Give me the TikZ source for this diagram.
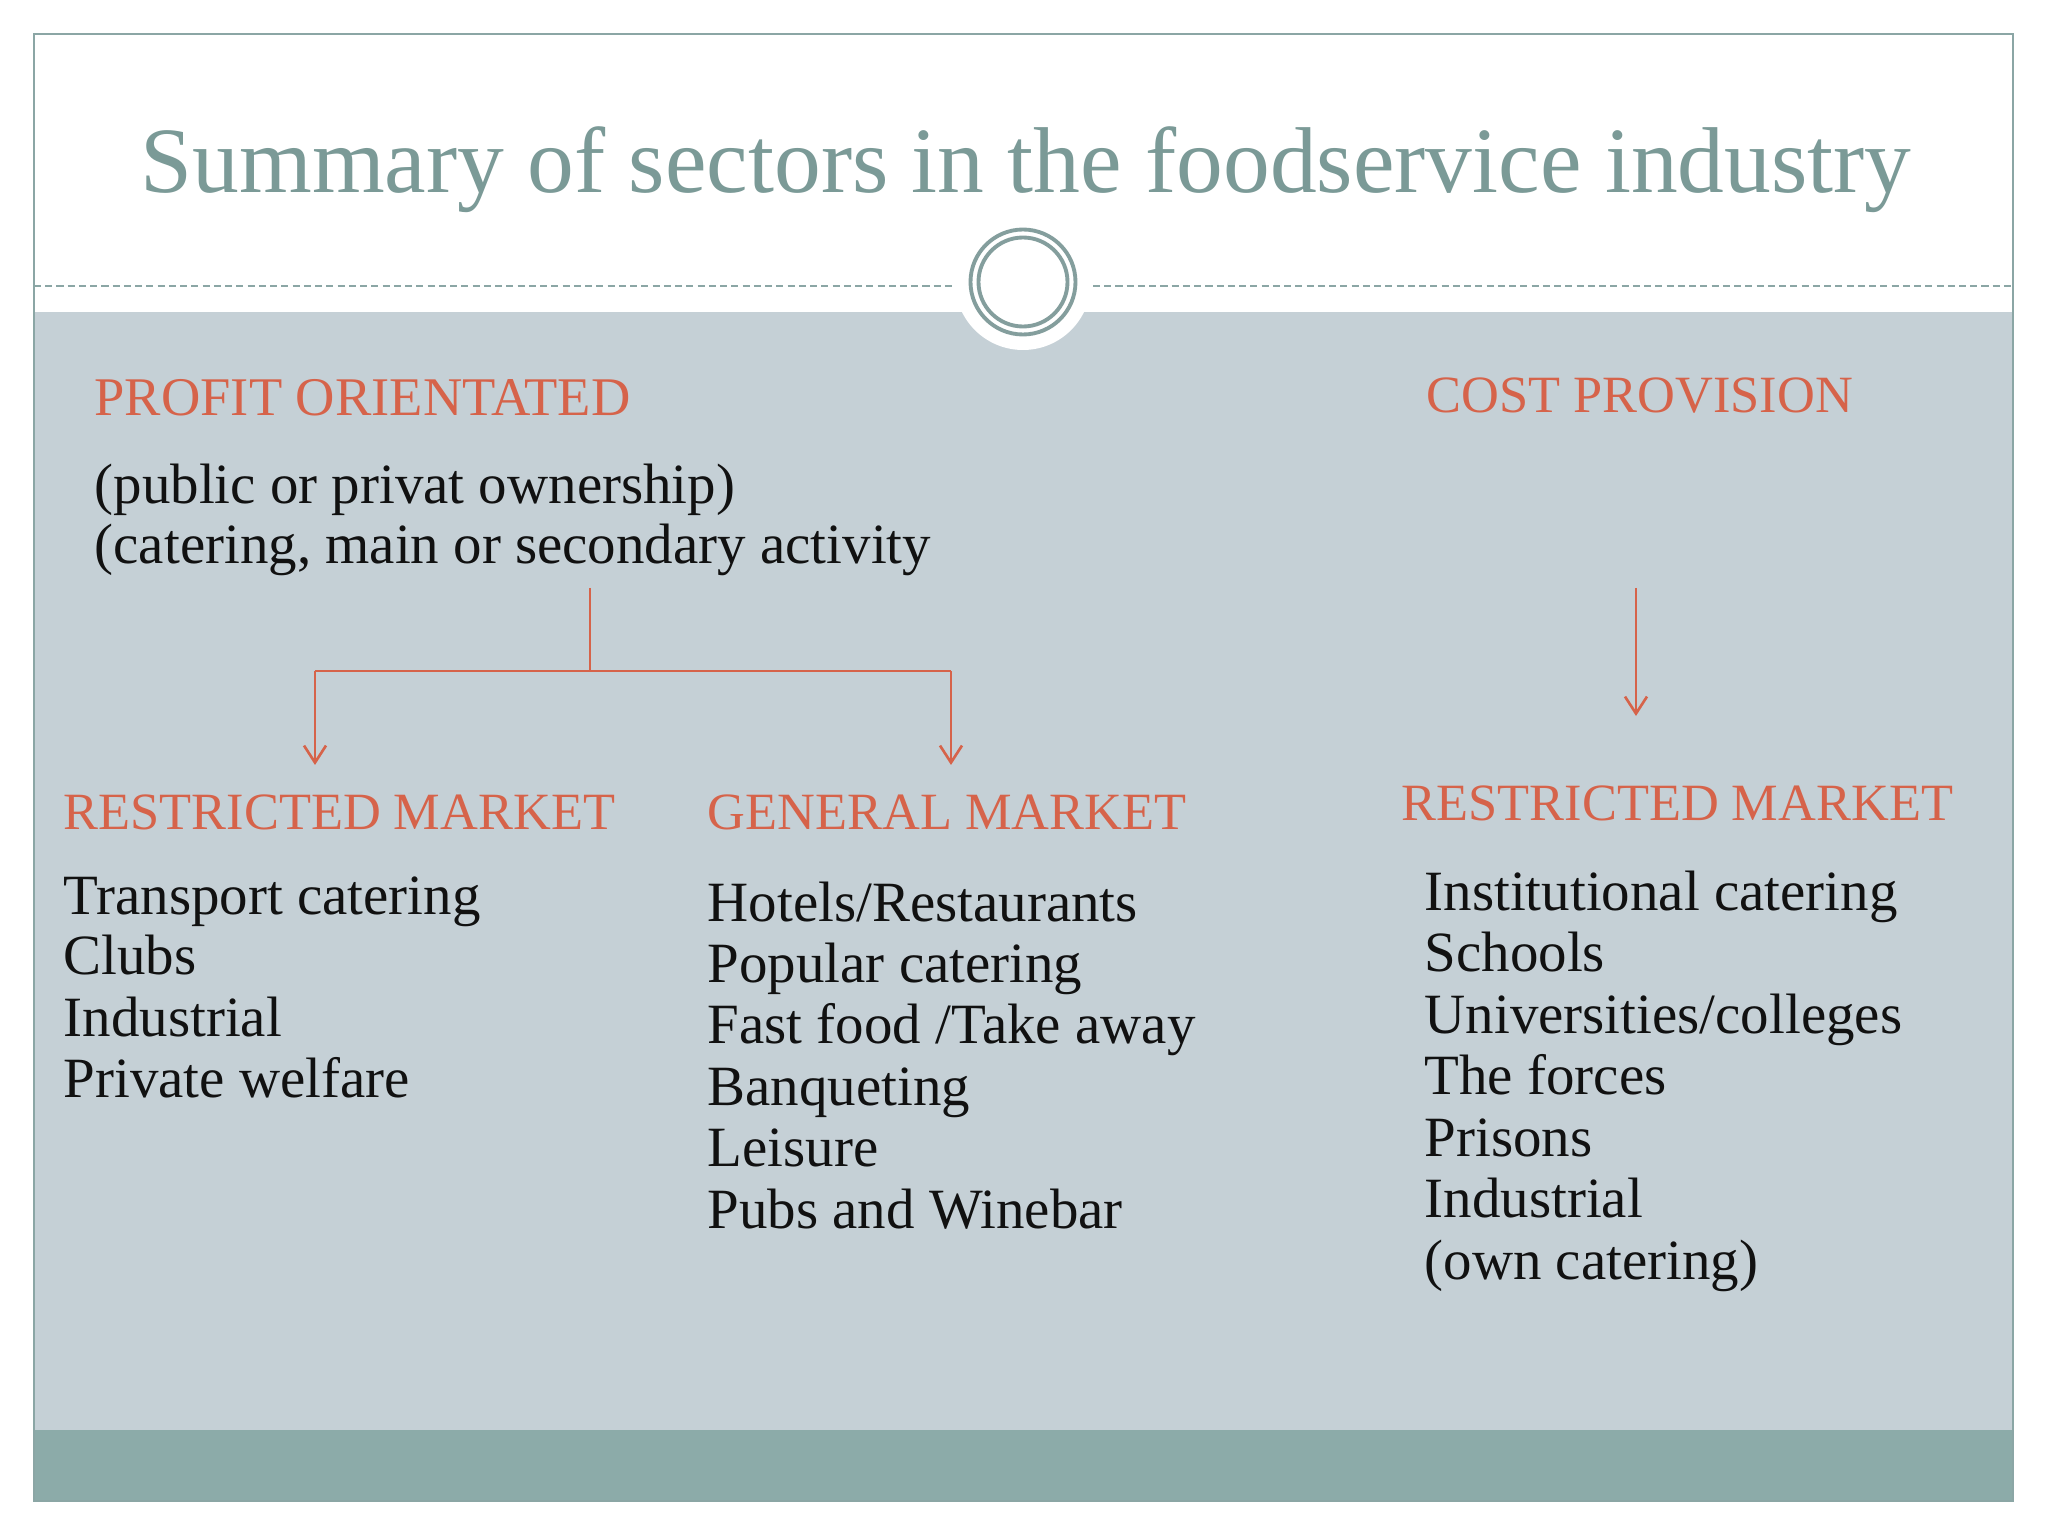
\documentclass[tikz,border=0pt]{standalone}
\usepackage{fontspec}
\setmainfont{Liberation Serif}
\usetikzlibrary{arrows.meta}
\definecolor{framec}{HTML}{8BA6A5}
\definecolor{panel}{HTML}{C5D0D6}
\definecolor{band}{HTML}{8CABA9}
\definecolor{titlec}{HTML}{7B9A97}
\definecolor{accent}{HTML}{D6634A}
\definecolor{bodyc}{HTML}{111111}
\tikzset{
  titletext/.style={anchor=base west, inner sep=0pt, text=titlec, font=\fontsize{26.6pt}{30pt}\selectfont},
  headtext/.style={anchor=base west, inner sep=0pt, text=accent, font=\fontsize{14.9pt}{17pt}\selectfont},
  bodytext/.style={anchor=base west, inner sep=0pt, text=bodyc, font=\fontsize{16.2pt}{18pt}\selectfont},
  link/.style={draw=accent, line width=0.75pt},
  linkarrow/.style={link, -{Straight Barb[length=0.17cm, width=0.22cm, line width=0.75pt]}},
}
\begin{document}
\begin{tikzpicture}
\useasboundingbox[fill=white] (0,0) rectangle (20.48,-15.36);
% panels
\fill[panel] (0.34,-3.12) rectangle (20.13,-14.30);
\fill[band] (0.34,-14.30) rectangle (20.13,-15.01);
\draw[framec, line width=0.6pt] (0.34,-0.34) rectangle (20.13,-15.01);
% dashed separator
\draw[framec, line width=0.5pt, dash pattern=on 2pt off 1.2pt] (0.34,-2.86) -- (9.55,-2.86);
\draw[framec, line width=0.5pt, dash pattern=on 2pt off 1.2pt] (10.93,-2.86) -- (20.13,-2.86);
% ornament
\fill[white] (10.23,-2.82) circle (0.68);
\draw[framec!95!black, line width=1.1pt] (10.23,-2.82) circle (0.525);
\draw[framec!95!black, line width=1.1pt] (10.23,-2.82) circle (0.445);
% title
\node[titletext] (title) at (1.40,-1.93) {Summary of sectors in the foodservice industry};
% left block
\node[headtext, font=\fontsize{15.5pt}{17pt}\selectfont] (profit) at (0.94,-4.16) {PROFIT ORIENTATED};
\node[bodytext] (own) at (0.94,-5.04) {(public or privat ownership)};
\node[bodytext] (cat) at (0.94,-5.64) {(catering, main or secondary activity};
\node[headtext] (cost) at (14.26,-4.13) {COST PROVISION};
\node[headtext] (rm1) at (0.63,-8.29) {RESTRICTED MARKET};
\node[headtext] (gm) at (7.07,-8.29) {GENERAL MARKET};
\node[headtext] (rm2) at (14.01,-8.20) {RESTRICTED MARKET};
% lists
\foreach \t [count=\i] in {Transport catering,Clubs,Industrial,Private welfare}
  \node[bodytext] (la\i) at (0.63,{-9.14-0.61*(\i-1)}) {\t};
\foreach \t [count=\i] in {Hotels/Restaurants,Popular catering,Fast food /Take away,Banqueting,Leisure,Pubs and Winebar}
  \node[bodytext] (lb\i) at (7.07,{-9.21-0.614*(\i-1)}) {\t};
\foreach \t [count=\i] in {Institutional catering,Schools,Universities/colleges,The forces,Prisons,Industrial,(own catering)}
  \node[bodytext] (lc\i) at (14.24,{-9.10-0.615*(\i-1)}) {\t};
% connectors
\coordinate (stem) at (5.90,-5.88);
\coordinate (fork) at (5.90,-6.71);
\coordinate (forkl) at (3.15,-6.71);
\coordinate (forkr) at (9.51,-6.71);
\coordinate (tipl) at (3.15,-7.65);
\coordinate (tipr) at (9.51,-7.65);
\coordinate (cstem) at (16.36,-5.88);
\coordinate (ctip) at (16.36,-7.16);
\draw[link] (stem) -- (fork);
\draw[link] (forkl) -- (forkr);
\draw[linkarrow] (forkl) -- (tipl);
\draw[linkarrow] (forkr) -- (tipr);
\draw[linkarrow] (cstem) -- (ctip);
\end{tikzpicture}
\end{document}
